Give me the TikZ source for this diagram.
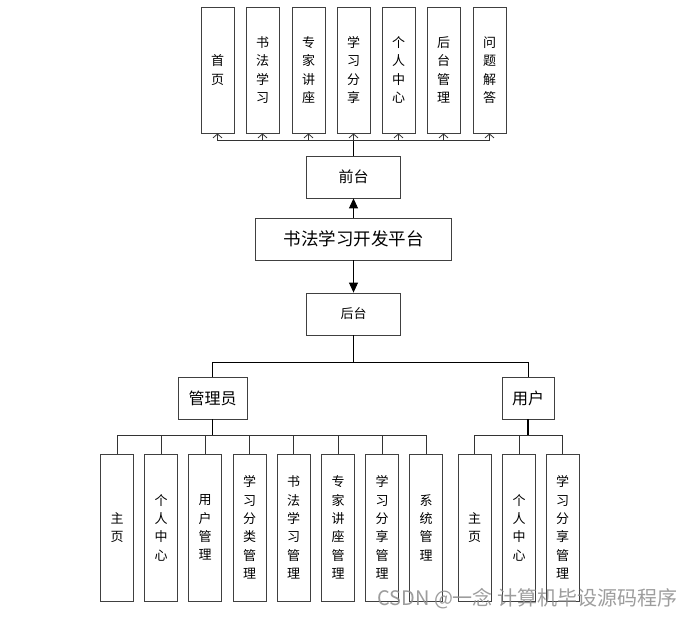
\documentclass[tikz,border=0pt]{standalone}
\usepackage{fontspec}
\setmainfont{Noto Sans CJK SC}
\usetikzlibrary{arrows.meta}
\begin{document}
\begin{tikzpicture}[x=1pt,y=-1pt,
  box/.style={draw=black!75, line width=0.8pt, fill=white, inner sep=0pt, align=center},
  vbox/.style={box, minimum width=33pt, font=\fontsize{13}{18.3}\selectfont},
  topbox/.style={vbox, minimum height=126pt},
  botbox/.style={vbox, minimum height=147pt},
  conn/.style={draw=black!80, line width=0.8pt},
  openarrow/.style={conn, -{Straight Barb[length=4pt,width=9pt]}},
  mainarrow/.style={draw=black, line width=0.9pt, -{Triangle[length=10pt,width=9pt]}}]
\useasboundingbox (0,0) rectangle (690,618);
% top row
\foreach \x/\t [count=\i] in {217.5/首\\页, 262.5/书\\法\\学\\习, 308.5/专\\家\\讲\\座,
  353.5/学\\习\\分\\享, 398.5/个\\人\\中\\心, 443.5/后\\台\\管\\理, 489.5/问\\题\\解\\答}
  \node[topbox] (t\i) at (\x,70) {\t};
% middle
\node[box, minimum width=94pt, minimum height=42pt, font=\fontsize{15}{15}\selectfont] (qt) at (353.5,177) {前台};
\node[box, minimum width=196pt, minimum height=42pt, font=\fontsize{17.5}{17.5}\selectfont] (pt) at (353.5,239) {书法学习开发平台};
\node[box, minimum width=94pt, minimum height=42pt, font=\fontsize{13}{13}\selectfont] (ht) at (353.5,314) {后台};
\node[box, minimum width=69pt, minimum height=42pt, font=\fontsize{16}{16}\selectfont] (gly) at (212.5,398) {管理员};
\node[box, minimum width=52pt, minimum height=42pt, font=\fontsize{16}{16}\selectfont] (yh) at (528,398) {用户};
% bottom rows
\foreach \x/\t [count=\i] in {117/主\\页, 161/个\\人\\中\\心, 205/用\\户\\管\\理, 249.5/学\\习\\分\\类\\管\\理,
  293.5/书\\法\\学\\习\\管\\理, 338/专\\家\\讲\\座\\管\\理, 382/学\\习\\分\\享\\管\\理, 426/系\\统\\管\\理}
  \node[botbox] (a\i) at (\x,527.5) {\t};
\foreach \x/\t [count=\i] in {474.5/主\\页, 519/个\\人\\中\\心, 562.5/学\\习\\分\\享\\管\\理}
  \node[botbox] (u\i) at (\x,527.5) {\t};
% connectors top
\coordinate (tbus) at (353.5,140);
\draw[draw=black, line width=1.2pt] (qt.north) -- (tbus);
\foreach \i in {1,...,7} \draw[openarrow] (tbus) -| (t\i.south);
\draw[mainarrow] (pt.north) -- (qt.south);
\draw[mainarrow] (pt.south) -- (ht.north);
% connectors bottom
\coordinate (hbus) at (353.5,362);
\draw[conn, draw=black] (ht.south) -- (hbus);
\draw[conn, draw=black] (hbus) -| (gly.north);
\draw[conn, draw=black] (hbus) -| (yh.north);
\coordinate (gbus) at (212.5,435);
\draw[conn, draw=black, line width=1.1pt] (gly.south) -- (gbus);
\foreach \i in {1,...,8} \draw[conn] (gbus) -| (a\i.north);
\coordinate (ubus) at (528,435);
\draw[conn, draw=black, line width=1.1pt] (yh.south) -- (ubus);
\foreach \i in {1,...,3} \draw[conn] (ubus) -| (u\i.north);
% watermark
\node[anchor=west, inner sep=0pt, text=black!45, opacity=0.85, font=\fontsize{20}{20}\selectfont] (wm) at (377,599) {CSDN @一念 计算机毕设源码程序};
\end{tikzpicture}
\end{document}
